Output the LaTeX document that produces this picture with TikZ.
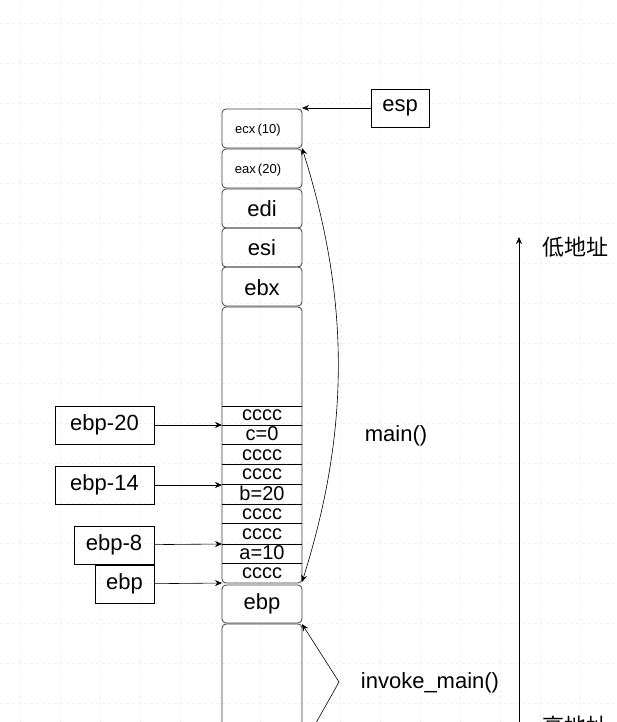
\documentclass[tikz,border=0pt]{standalone}
\usepackage{fontspec}
\setmainfont{Liberation Sans}
\newfontfamily\cjk{Noto Sans CJK SC}
\usetikzlibrary{arrows.meta}
\begin{document}
\begin{tikzpicture}[x=1pt,y=-1pt,
  cell/.style={draw=black!75,rounded corners=4pt,line width=0.8pt},
  lbl/.style={draw=black,line width=0.8pt,minimum height=38pt,font=\fontsize{22}{22}\selectfont,inner sep=0pt},
  arr/.style={-{Stealth[length=7pt,width=6pt]},line width=0.6pt},
  txt/.style={font=\fontsize{22}{22}\selectfont,inner sep=0pt}]
\useasboundingbox (0,0) rectangle (616,722);
\fill[white] (0,0) rectangle (616,722);
\foreach \x in {20,60,...,600} \draw[black!6,dashed] (\x,0) -- (\x,722);
\foreach \y in {23,63,...,720} \draw[black!6,dashed] (0,\y) -- (616,\y);
% registers
\draw[cell] (222,109) rectangle (302,148); \node[font=\fontsize{13}{13}\selectfont] (ecx) at (258,130) {ecx\,(10)};
\draw[cell] (222,149) rectangle (302,188); \node[font=\fontsize{13}{13}\selectfont] (eax) at (258,170) {eax\,(20)};
\draw[cell] (222,189) rectangle (302,228); \node[txt] (edi) at (262,209) {edi};
\draw[cell] (222,228) rectangle (302,267); \node[txt] (esi) at (262,248) {esi};
\draw[cell] (222,267) rectangle (302,306); \node[txt] (ebx) at (262,288) {ebx};
\draw[cell] (222,307) rectangle (302,583);
\foreach \y in {406,425,444,464,484,504,523,544,563} \draw[black,line width=0.7pt] (222,\y) -- (302,\y);
\foreach \y/\t in {415/cccc,434/c=0,455/cccc,474/cccc,493/b=20,514/cccc,534/cccc,553/a=10,573/cccc}
  \node[font=\fontsize{20}{20}\selectfont,inner sep=0pt] at (262,\y) {\t};
\draw[cell] (222,585) rectangle (302,623); \node[txt] (ebpc) at (262,604) {ebp};
\draw[cell] (222,624) rectangle (302,740);
% pointers
\node[lbl,minimum width=58pt] (esp) at (400,108) {esp};
\coordinate (espT) at (302,108);
\draw[arr] (esp) -- (espT);
\node[lbl,minimum width=99pt] (e20) at (104.5,425) {ebp-20};
\coordinate (t20) at (222,425); \draw[arr] (e20) -- (t20);
\node[lbl,minimum width=99pt] (e14) at (104.5,485) {ebp-14};
\coordinate (t14) at (222,485); \draw[arr] (e14) -- (t14);
\node[lbl,minimum width=80pt] (e8) at (114,545) {ebp-8};
\coordinate (t8) at (222,544); \draw[arr] (e8) -- (t8);
\node[lbl,minimum width=59pt] (eb) at (124.5,584) {ebp};
\coordinate (tb) at (222,583); \draw[arr] (eb) -- (tb);
% main bracket
\coordinate (mTop) at (302,148); \coordinate (mBot) at (302,582);
\draw[{Stealth[length=7pt,width=6pt]}-{Stealth[length=7pt,width=6pt]},line width=0.6pt] (mTop) .. controls (350,300) and (350,430) .. (mBot);
\node[txt] (main) at (396,436) {main()};
% invoke_main
\coordinate (iTop) at (302,624); \coordinate (iMid) at (339,682); \coordinate (iBot) at (312,730);
\draw[arr] (iMid) -- (iTop); \draw[line width=0.6pt] (iMid) -- (iBot);
\node[txt] (inv) at (430,683) {invoke\_main()};
% address axis
\coordinate (aTop) at (519,237); \coordinate (aBot) at (519,730);
\draw[arr] (aBot) -- (aTop);
\node[font=\cjk\fontsize{22}{22}\selectfont,inner sep=0pt] (low) at (575,247) {低地址};
\node[font=\cjk\fontsize{22}{22}\selectfont,inner sep=0pt] (high) at (575,726) {高地址};
\end{tikzpicture}
\end{document}
